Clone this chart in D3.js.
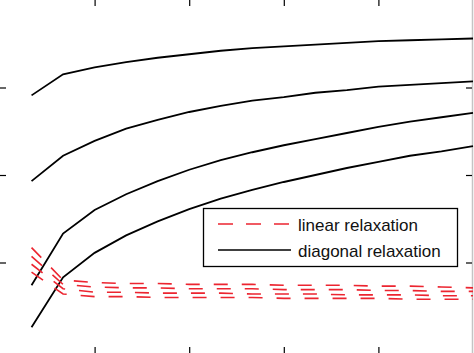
<!DOCTYPE html>
<html>
<head>
<meta charset="utf-8">
<script src="https://d3js.org/d3.v7.min.js"></script>
<style>
  body { margin: 0; background: #fff; }
  svg { display: block; }
</style>
</head>
<body>
<script>
// iterations 1..15
const iters = d3.range(1, 16);

// diagonal relaxation (4 runs)
const diag1 = [0.891, 0.915, 0.923, 0.929, 0.934, 0.938, 0.942, 0.945, 0.947, 0.949, 0.951, 0.953, 0.954, 0.955, 0.956];
const diag2 = [0.793, 0.822, 0.839, 0.853, 0.863, 0.872, 0.879, 0.885, 0.889, 0.894, 0.897, 0.901, 0.903, 0.905, 0.907];
const diag3 = [0.674, 0.733, 0.760, 0.778, 0.793, 0.806, 0.817, 0.826, 0.834, 0.841, 0.848, 0.855, 0.861, 0.866, 0.871];
const diag4 = [0.626, 0.683, 0.711, 0.731, 0.747, 0.761, 0.773, 0.783, 0.792, 0.800, 0.808, 0.815, 0.822, 0.827, 0.833];

// linear relaxation (4 runs)
const lin1 = [0.717, 0.680, 0.677, 0.676, 0.676, 0.675, 0.675, 0.675, 0.674, 0.674, 0.674, 0.673, 0.673, 0.672, 0.671];
const lin2 = [0.707, 0.675, 0.672, 0.671, 0.671, 0.670, 0.670, 0.670, 0.669, 0.669, 0.669, 0.668, 0.668, 0.667, 0.667];
const lin3 = [0.698, 0.670, 0.666, 0.666, 0.665, 0.665, 0.665, 0.664, 0.664, 0.664, 0.663, 0.663, 0.663, 0.662, 0.662];
const lin4 = [0.689, 0.664, 0.661, 0.661, 0.660, 0.660, 0.660, 0.660, 0.659, 0.659, 0.659, 0.659, 0.658, 0.658, 0.658];

const xTicks = [3, 6, 9, 12];
const yTicks = [0.7, 0.8, 0.9];
const legendLabels = ["linear relaxation", "diagonal relaxation"];

const W = 474, H = 353;
const svg = d3.select("body").append("svg").attr("width", W).attr("height", H);

const x = d3.scaleLinear().domain([0, 15]).range([0, 473]);
const y = d3.scaleLinear().domain([0.6, 1.0]).range([350, 0]);

const line = d3.line().x((d, i) => x(iters[i])).y(d => y(d));

// frame edge on the right
svg.append("line")
  .attr("x1", 472.5).attr("x2", 472.5).attr("y1", 0).attr("y2", H)
  .attr("stroke", "#c4c4c4").attr("stroke-width", 1.5);

// inward ticks, no labels
const tick = 6;
svg.append("g").attr("transform", "translate(0,0)")
  .call(d3.axisTop(x).tickValues(xTicks).tickSize(-tick).tickFormat(""));
svg.append("g").attr("transform", `translate(0,${H})`)
  .call(d3.axisBottom(x).tickValues(xTicks).tickSize(-tick).tickFormat(""));
svg.append("g").attr("transform", "translate(0,0)")
  .call(d3.axisLeft(y).tickValues(yTicks).tickSize(-tick).tickFormat(""));
svg.append("g").attr("transform", "translate(472,0)")
  .call(d3.axisRight(y).tickValues(yTicks).tickSize(-tick).tickFormat(""));
svg.selectAll(".domain").remove();
svg.selectAll(".tick line").attr("stroke", "#000").attr("stroke-width", 1.2);

[diag1, diag2, diag3, diag4].forEach(s => {
  svg.append("path").datum(s)
    .attr("d", line)
    .attr("fill", "none")
    .attr("stroke", "#000")
    .attr("stroke-width", 1.8);
});

[lin1, lin2, lin3, lin4].forEach(s => {
  svg.append("path").datum(s)
    .attr("d", line)
    .attr("fill", "none")
    .attr("stroke", "#ec2530")
    .attr("stroke-width", 1.6)
    .attr("stroke-dasharray", "14,14");
});

// legend
const lg = svg.append("g").attr("transform", "translate(203,208)");
lg.append("rect")
  .attr("x", 0.5).attr("y", 0.5).attr("width", 254).attr("height", 58)
  .attr("fill", "#fff").attr("stroke", "#000").attr("stroke-width", 1.3);
lg.append("line")
  .attr("x1", 15).attr("x2", 88).attr("y1", 16).attr("y2", 16)
  .attr("stroke", "#ec2530").attr("stroke-width", 1.6).attr("stroke-dasharray", "15,13");
lg.append("line")
  .attr("x1", 15).attr("x2", 88).attr("y1", 42).attr("y2", 42)
  .attr("stroke", "#000").attr("stroke-width", 1.5);
lg.selectAll("text").data(legendLabels).enter().append("text")
  .attr("x", 95)
  .attr("y", (d, i) => 23 + i * 26)
  .attr("font-family", "Liberation Sans, Arial, sans-serif")
  .attr("font-size", 17)
  .attr("fill", "#111")
  .text(d => d);
</script>
</body>
</html>
